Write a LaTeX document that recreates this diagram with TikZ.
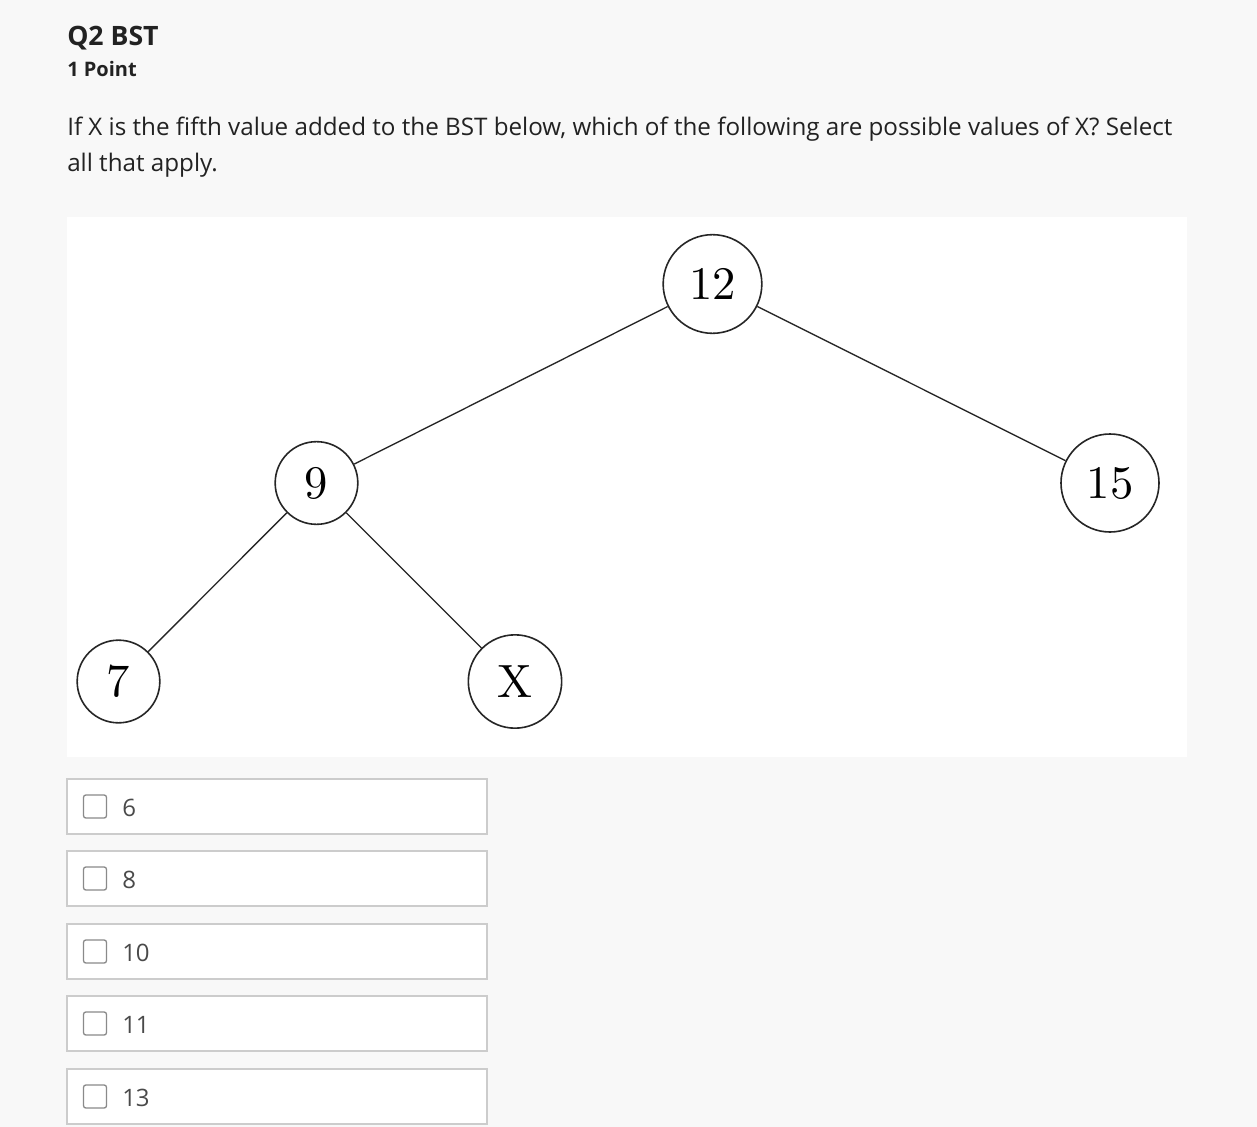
\documentclass[tikz,border=0pt]{standalone}
\usepackage{fontspec}
\newfontfamily\osans{Open Sans}
\newfontfamily\lmten{lmroman10-regular}[Extension=.otf]
\definecolor{pagebg}{HTML}{F8F8F8}
\definecolor{txt}{HTML}{222222}
\definecolor{opttxt}{HTML}{4A4A4A}
\definecolor{optborder}{HTML}{CCCCCC}
\definecolor{cbborder}{HTML}{8A8A8A}
\begin{document}
\begin{tikzpicture}[x=0.75pt,y=-0.75pt,
  treenode/.style={circle,draw=black!85,line width=1.2pt,inner sep=0pt,font=\lmten\fontsize{35}{35}\selectfont},
  treeedge/.style={draw=black!85,line width=1pt},
  optbox/.style={draw=optborder,fill=white,line width=1pt,minimum width=315pt,minimum height=41.25pt,inner sep=0pt},
  cbox/.style={draw=cbborder,fill=white,line width=1pt,rounded corners=1.8pt,minimum size=17.25pt,inner sep=0pt},
  opttext/.style={anchor=base west,inner sep=0pt,text=opttxt,font=\osans\fontsize{18}{22}\selectfont},
  uitext/.style={anchor=base west,inner sep=0pt,text=txt}]
\fill[pagebg] (0,0) rectangle (1257,1127);
\useasboundingbox (0,0) rectangle (1257,1127);
% header
\node[uitext,font=\osans\bfseries\fontsize{20}{24}\selectfont] (title) at (67,46) {Q2 BST};
\node[uitext,font=\osans\bfseries\fontsize{15}{18}\selectfont] (points) at (67,77) {1 Point};
\node[uitext,font=\osans\fontsize{18.15}{24}\selectfont] (q1) at (67,136) {If X is the fifth value added to the BST below, which of the following are possible values of X? Select};
\node[uitext,font=\osans\fontsize{18.15}{24}\selectfont] (q2) at (67,172) {all that apply.};
% diagram panel
\fill[white] (67,217) rectangle (1187,757);
\node[treenode,minimum size=74pt] (n12) at (712.5,284) {12};
\node[treenode,minimum size=62pt] (n9) at (316.5,483) {9};
\node[treenode,minimum size=73.5pt] (n15) at (1110,483) {15};
\node[treenode,minimum size=62pt] (n7) at (118.5,681.5) {7};
\node[treenode,minimum size=70pt] (nX) at (515,681.5) {X};
\draw[treeedge] (n12) -- (n9);
\draw[treeedge] (n12) -- (n15);
\draw[treeedge] (n9) -- (n7);
\draw[treeedge] (n9) -- (nX);
% options
\node[optbox] (o1) at (277,806.5) {};
\node[optbox] (o2) at (277,878.5) {};
\node[optbox] (o3) at (277,951.5) {};
\node[optbox] (o4) at (277,1023.5) {};
\node[optbox] (o5) at (277,1096.5) {};
\node[cbox] (c1) at (95,806.5) {};
\node[cbox] (c2) at (95,878.5) {};
\node[cbox] (c3) at (95,951.5) {};
\node[cbox] (c4) at (95,1023.5) {};
\node[cbox] (c5) at (95,1096.5) {};
\node[opttext] (t1) at (122,816) {6};
\node[opttext] (t2) at (122,888) {8};
\node[opttext] (t3) at (122,961) {10};
\node[opttext] (t4) at (122,1033) {11};
\node[opttext] (t5) at (122,1106) {13};
\end{tikzpicture}
\end{document}
